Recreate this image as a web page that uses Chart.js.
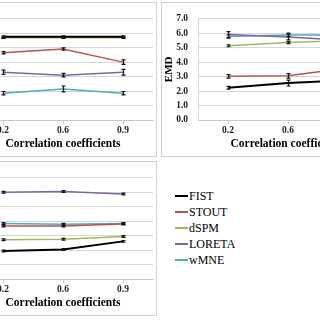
<!DOCTYPE html>
<html lang="en">
<head>
<meta charset="UTF-8" />
<title>EMD vs correlation coefficients</title>
<script src="https://cdn.jsdelivr.net/npm/chart.js"></script>
<style>
  html, body { margin: 0; padding: 0; width: 320px; height: 320px; overflow: hidden; background: #fff; }
  .panel { position: absolute; width: 219px; height: 153px; border: 1px solid #d0d0d0; background: #fff; }
  .panel canvas { display: block; }
  #legend { position: absolute; left: 175px; top: 188px; font-family: "Liberation Serif", serif; font-size: 12px; color: #000; }
  .row { height: 16px; display: flex; align-items: center; }
  .swatch { width: 13px; height: 2px; margin-right: 1px; }
</style>
</head>
<body>
<div class="panel" style="left:-64px; top:2px"><canvas id="chartA" width="219" height="153"></canvas></div>
<div class="panel" style="left:161px; top:2px"><canvas id="chartB" width="219" height="153"></canvas></div>
<div class="panel" style="left:-64px; top:161px"><canvas id="chartC" width="219" height="153"></canvas></div>
<div id="legend"></div>
<script>
const categories = ["0.2", "0.6", "0.9"];
const methods = ["FIST", "STOUT", "dSPM", "LORETA", "wMNE"];
const colors = ["#000000", "#C0504D", "#9BBB59", "#8064A2", "#4BACC6"];
const yTicks = [0, 1, 2, 3, 4, 5, 6, 7];

// top-left panel (cropped)
const fistA = [5.75, 5.75, 5.75];
const stoutA = [4.65, 4.9, 4.0];
const dspmA = [5.68, 5.68, 5.68];
const loretaA = [3.3, 3.1, 3.3];
const wmneA = [1.85, 2.15, 1.85];
const errA = [[0.06, 0.06, 0.06], [0.08, 0.08, 0.16], [0.04, 0.04, 0.04], [0.15, 0.12, 0.2], [0.12, 0.2, 0.12]];

// top-right panel, EMD
const fistB = [2.23, 2.55, 2.75];
const stoutB = [3.02, 3.05, 3.6];
const dspmB = [5.13, 5.35, 5.5];
const loretaB = [5.9, 5.73, 5.5];
const wmneB = [5.77, 5.88, 5.88];
const errB = [[0.1, 0.2, 0.15], [0.12, 0.15, 0.12], [0.07, 0.07, 0.07], [0.2, 0.2, 0.15], [0.12, 0.12, 0.12]];

// bottom-left panel (cropped)
const fistC = [1.93, 2.04, 2.6];
const stoutC = [3.66, 3.66, 3.8];
const dspmC = [2.71, 2.75, 2.94];
const loretaC = [5.99, 6.05, 5.87];
const wmneC = [3.83, 3.78, 3.83];
const errC = [[0.06, 0.06, 0.06], [0.06, 0.06, 0.06], [0.06, 0.06, 0.06], [0.06, 0.06, 0.06], [0.06, 0.06, 0.06]];

const serif = "'Liberation Serif', 'Times New Roman', serif";

const errorBars = {
  id: "errorBars",
  afterDatasetsDraw(chart) {
    const ctx = chart.ctx;
    const y = chart.scales.y;
    chart.data.datasets.forEach((ds, i) => {
      const meta = chart.getDatasetMeta(i);
      meta.data.forEach((pt, j) => {
        const v = ds.data[j], e = ds.errors[j];
        const x = Math.round(pt.x) + 0.5;
        const top = y.getPixelForValue(v + e);
        const bot = y.getPixelForValue(v - e);
        ctx.save();
        ctx.strokeStyle = "#111";
        ctx.lineWidth = 1.2;
        ctx.beginPath();
        ctx.moveTo(x, top); ctx.lineTo(x, bot);
        ctx.moveTo(x - 2, top); ctx.lineTo(x + 2, top);
        ctx.moveTo(x - 2, bot); ctx.lineTo(x + 2, bot);
        ctx.stroke();
        ctx.restore();
      });
    });
  }
};

function makeChart(id, series, errs, yTitle) {
  new Chart(document.getElementById(id), {
    type: "line",
    data: {
      labels: categories,
      datasets: series.map((d, i) => ({
        label: methods[i],
        data: d,
        errors: errs[i],
        borderColor: colors[i],
        borderWidth: i === 0 ? 2 : 1.5,
        pointRadius: 0,
        tension: 0,
      })),
    },
    options: {
      responsive: false,
      animation: false,
      layout: { padding: { top: 6, right: 3, left: 0, bottom: 0 } },
      plugins: { legend: { display: false }, tooltip: { enabled: false } },
      scales: {
        x: {
          offset: true,
          afterFit: (s) => { s.height = 36; },
          grid: { drawOnChartArea: false, drawTicks: true, tickLength: 4, color: "#c8c8c8" },
          border: { display: true, color: "#c8c8c8" },
          ticks: { padding: 1, color: "#222", font: { family: serif, size: 9.5, weight: "bold" } },
          title: {
            display: true,
            text: "Correlation coefficients",
            color: "#000",
            padding: { top: 0, bottom: 5 },
            font: { family: serif, size: 11.5, weight: "bold" },
          },
        },
        y: {
          min: yTicks[0],
          max: yTicks[yTicks.length - 1],
          afterFit: (s) => { s.width = 36; },
          afterBuildTicks: (s) => { s.ticks = yTicks.map((v) => ({ value: v })); },
          grid: { color: "#d6d6d6", drawTicks: false },
          border: { display: true, color: "#d6d6d6" },
          ticks: {
            padding: 10,
            color: "#222",
            font: { family: serif, size: 9.5, weight: "bold" },
            callback: (v) => v.toFixed(1),
          },
          title: {
            display: !!yTitle,
            text: yTitle,
            color: "#000",
            padding: { top: 1, bottom: 0 },
            font: { family: serif, size: 11, weight: "bold" },
          },
        },
      },
    },
    plugins: [errorBars],
  });
}

makeChart("chartA", [fistA, stoutA, dspmA, loretaA, wmneA], errA, "");
makeChart("chartB", [fistB, stoutB, dspmB, loretaB, wmneB], errB, "EMD");
makeChart("chartC", [fistC, stoutC, dspmC, loretaC, wmneC], errC, "");

const legend = document.getElementById("legend");
methods.forEach((m, i) => {
  const row = document.createElement("div");
  row.className = "row";
  row.innerHTML = '<span class="swatch" style="background:' + colors[i] + '"></span>' + m;
  legend.appendChild(row);
});
</script>
</body>
</html>
